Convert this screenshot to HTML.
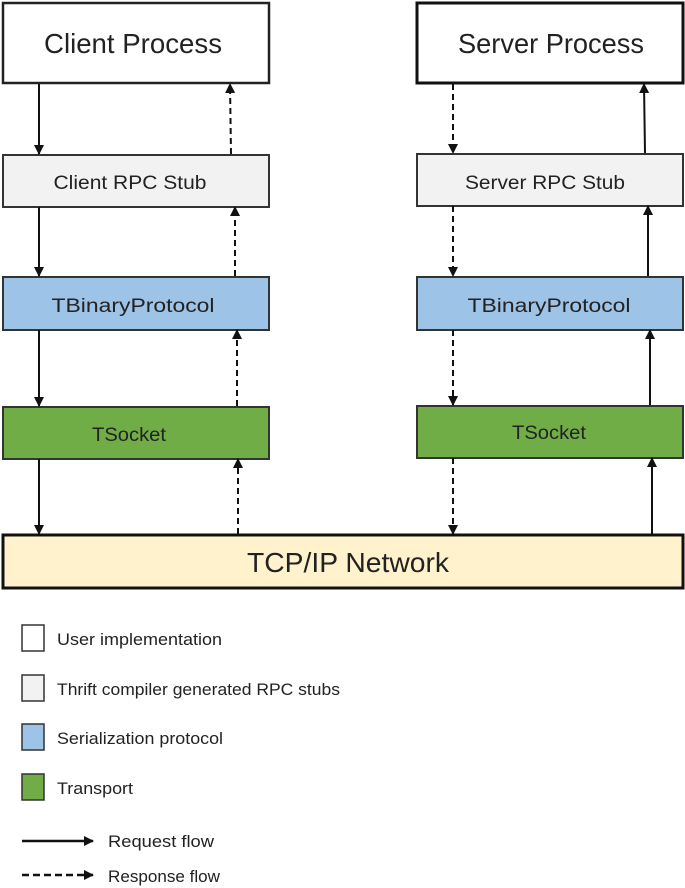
<!DOCTYPE html>
<html><head><meta charset="utf-8"><style>
html,body{margin:0;padding:0;background:#fff;}
svg{display:block;}
text{font-family:"Liberation Sans",sans-serif;fill:#222;}
</style></head><body>
<svg width="685" height="888" viewBox="0 0 685 888" xmlns="http://www.w3.org/2000/svg">
<defs>
<marker id="ah" markerWidth="10" markerHeight="10" refX="9" refY="5" orient="auto" markerUnits="userSpaceOnUse">
<path d="M0,0 L10,5 L0,10 z" fill="#111"/></marker>
</defs>
<rect x="3" y="3" width="266" height="80" fill="#fff" stroke="#222" stroke-width="2.5"/>
<text x="133" y="53" font-size="28" text-anchor="middle" textLength="178" lengthAdjust="spacingAndGlyphs">Client Process</text>
<rect x="417" y="3" width="266" height="80" fill="#fff" stroke="#111" stroke-width="3"/>
<text x="551" y="53" font-size="28" text-anchor="middle" textLength="186" lengthAdjust="spacingAndGlyphs">Server Process</text>

<rect x="3" y="155" width="266" height="52" fill="#f2f2f2" stroke="#333" stroke-width="2"/>
<text x="130" y="189" font-size="19" text-anchor="middle" textLength="153" lengthAdjust="spacingAndGlyphs">Client RPC Stub</text>
<rect x="417" y="154" width="266" height="52" fill="#f2f2f2" stroke="#333" stroke-width="2"/>
<text x="545" y="189" font-size="19" text-anchor="middle" textLength="160" lengthAdjust="spacingAndGlyphs">Server  RPC Stub</text>

<rect x="3" y="277" width="266" height="53" fill="#9dc3e6" stroke="#333" stroke-width="2"/>
<text x="133" y="312" font-size="19" text-anchor="middle" textLength="163" lengthAdjust="spacingAndGlyphs">TBinaryProtocol</text>
<rect x="417" y="277" width="266" height="53" fill="#9dc3e6" stroke="#333" stroke-width="2"/>
<text x="549" y="312" font-size="19" text-anchor="middle" textLength="163" lengthAdjust="spacingAndGlyphs">TBinaryProtocol</text>

<rect x="3" y="407" width="266" height="52" fill="#70ad47" stroke="#333" stroke-width="2"/>
<text x="129" y="441" font-size="19" text-anchor="middle" textLength="74" lengthAdjust="spacingAndGlyphs">TSocket</text>
<rect x="417" y="406" width="266" height="52" fill="#70ad47" stroke="#333" stroke-width="2"/>
<text x="549" y="439" font-size="19" text-anchor="middle" textLength="74" lengthAdjust="spacingAndGlyphs">TSocket</text>

<rect x="3" y="535" width="680" height="53" fill="#fff2cc" stroke="#111" stroke-width="3"/>
<text x="348" y="572" font-size="28" text-anchor="middle" textLength="202" lengthAdjust="spacingAndGlyphs">TCP/IP Network</text>

<g stroke="#111" stroke-width="2" fill="none">
<line x1="39" y1="84" x2="39" y2="154" marker-end="url(#ah)"/>
<line x1="39" y1="207" x2="39" y2="276" marker-end="url(#ah)"/>
<line x1="39" y1="330" x2="39" y2="406" marker-end="url(#ah)"/>
<line x1="39" y1="459" x2="39" y2="534" marker-end="url(#ah)"/>
<line x1="231" y1="154" x2="230" y2="84" stroke-dasharray="6,4" marker-end="url(#ah)"/>
<line x1="235" y1="276" x2="235" y2="207" stroke-dasharray="6,4" marker-end="url(#ah)"/>
<line x1="237" y1="406" x2="237" y2="330" stroke-dasharray="6,4" marker-end="url(#ah)"/>
<line x1="238" y1="534" x2="238" y2="459" stroke-dasharray="6,4" marker-end="url(#ah)"/>
<line x1="453" y1="84" x2="453" y2="153" stroke-dasharray="6,4" marker-end="url(#ah)"/>
<line x1="453" y1="206" x2="453" y2="276" stroke-dasharray="6,4" marker-end="url(#ah)"/>
<line x1="453" y1="330" x2="453" y2="405" stroke-dasharray="6,4" marker-end="url(#ah)"/>
<line x1="453" y1="458" x2="453" y2="534" stroke-dasharray="6,4" marker-end="url(#ah)"/>
<line x1="645" y1="153" x2="644" y2="84" marker-end="url(#ah)"/>
<line x1="648" y1="276" x2="648" y2="206" marker-end="url(#ah)"/>
<line x1="650" y1="405" x2="650" y2="330" marker-end="url(#ah)"/>
<line x1="652" y1="534" x2="652" y2="458" marker-end="url(#ah)"/>
</g>

<rect x="22" y="625" width="22" height="26" fill="#fff" stroke="#333" stroke-width="1.5"/>
<text x="57" y="645" font-size="17" textLength="165" lengthAdjust="spacingAndGlyphs">User implementation</text>
<rect x="22" y="675" width="22" height="26" fill="#f2f2f2" stroke="#333" stroke-width="1.5"/>
<text x="57" y="695" font-size="17" textLength="283" lengthAdjust="spacingAndGlyphs">Thrift compiler generated RPC stubs</text>
<rect x="22" y="724" width="22" height="26" fill="#9dc3e6" stroke="#333" stroke-width="1.5"/>
<text x="57" y="744" font-size="17" textLength="166" lengthAdjust="spacingAndGlyphs">Serialization protocol</text>
<rect x="22" y="774" width="22" height="26" fill="#70ad47" stroke="#333" stroke-width="1.5"/>
<text x="57" y="794" font-size="17" textLength="76" lengthAdjust="spacingAndGlyphs">Transport</text>

<line x1="22" y1="841" x2="93" y2="841" stroke="#111" stroke-width="2.5" marker-end="url(#ah)"/>
<text x="108" y="847" font-size="17" textLength="106" lengthAdjust="spacingAndGlyphs">Request  flow</text>
<line x1="22" y1="875" x2="93" y2="875" stroke="#111" stroke-width="2.5" stroke-dasharray="7,4" marker-end="url(#ah)"/>
<text x="108" y="882" font-size="17" textLength="112" lengthAdjust="spacingAndGlyphs">Response flow</text>
</svg>
</body></html>
